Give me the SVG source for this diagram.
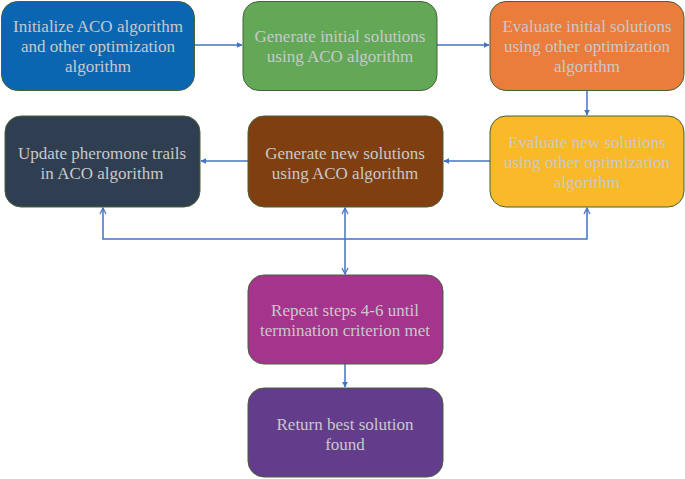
<svg xmlns="http://www.w3.org/2000/svg" width="685" height="479" viewBox="0 0 685 479">
<defs>
<marker id="tri" viewBox="0 0 10 10" refX="9" refY="5" markerWidth="4" markerHeight="4" orient="auto-start-reverse" markerUnits="strokeWidth">
<path d="M0,0 L10,5 L0,10 z" fill="#4472C4"/>
</marker>
<marker id="open" viewBox="0 0 10 10" refX="9" refY="5" markerWidth="5" markerHeight="5" orient="auto-start-reverse" markerUnits="strokeWidth">
<path d="M1,1 L9,5 L1,9" fill="none" stroke="#4472C4" stroke-width="1.6"/>
</marker>
<style>
.box{stroke:#48603a;stroke-width:1}
.t{font-family:"Liberation Serif","Times New Roman",serif;font-size:17px;fill:#c9c9c9;text-anchor:middle}
.c{fill:none;stroke:#4472C4;stroke-width:1.5}
</style>
</defs>
<g id="connectors">
<line class="c" x1="195" y1="45" x2="242" y2="45" marker-end="url(#tri)"/>
<line class="c" x1="437" y1="45" x2="489" y2="45" marker-end="url(#tri)"/>
<line class="c" x1="587" y1="91" x2="587" y2="115" marker-end="url(#tri)"/>
<line class="c" x1="490" y1="161" x2="444" y2="161" marker-end="url(#tri)"/>
<line class="c" x1="248" y1="161" x2="201" y2="161" marker-end="url(#tri)"/>
<polyline class="c" points="103,208 103,239 587,239 587,208" marker-start="url(#open)" marker-end="url(#open)"/>
<line class="c" x1="345" y1="208" x2="345" y2="274" marker-start="url(#open)" marker-end="url(#open)"/>
<line class="c" x1="345" y1="364" x2="345" y2="387" marker-end="url(#tri)"/>
</g>
<g id="n1">
<rect class="box" x="1.5" y="1.5" width="193" height="89" rx="16" fill="#0B66B2"/>
<text class="t" x="98" y="32">Initialize ACO algorithm</text>
<text class="t" x="98" y="52">and other optimization</text>
<text class="t" x="98" y="72">algorithm</text>
</g>
<g id="n2">
<rect class="box" x="243" y="1.5" width="194" height="89" rx="16" fill="#62A857"/>
<text class="t" x="340" y="42">Generate initial solutions</text>
<text class="t" x="340" y="62">using ACO algorithm</text>
</g>
<g id="n3">
<rect class="box" x="490" y="1.5" width="194" height="89" rx="16" fill="#EA7D3B"/>
<text class="t" x="587" y="32">Evaluate initial solutions</text>
<text class="t" x="587" y="52">using other optimization</text>
<text class="t" x="587" y="72">algorithm</text>
</g>
<g id="n4">
<rect class="box" x="490" y="116" width="194" height="91" rx="16" fill="#F9B928"/>
<text class="t" x="587" y="148">Evaluate new solutions</text>
<text class="t" x="587" y="168">using other optimization</text>
<text class="t" x="587" y="188">algorithm</text>
</g>
<g id="n5">
<rect class="box" x="248" y="116" width="195" height="91" rx="16" fill="#7F3F10"/>
<text class="t" x="345" y="159">Generate new solutions</text>
<text class="t" x="345" y="179">using ACO algorithm</text>
</g>
<g id="n6">
<rect class="box" x="5" y="116" width="195" height="91" rx="16" fill="#2F3F51"/>
<text class="t" x="102" y="159">Update pheromone trails</text>
<text class="t" x="102" y="179">in ACO algorithm</text>
</g>
<g id="n7">
<rect class="box" x="248" y="275" width="195" height="89" rx="16" fill="#A5348D"/>
<text class="t" x="345" y="316">Repeat steps 4-6 until</text>
<text class="t" x="345" y="336">termination criterion met</text>
</g>
<g id="n8">
<rect class="box" x="248" y="388" width="195" height="89" rx="16" fill="#633C8C"/>
<text class="t" x="345" y="430">Return best solution</text>
<text class="t" x="345" y="450">found</text>
</g>
</svg>
